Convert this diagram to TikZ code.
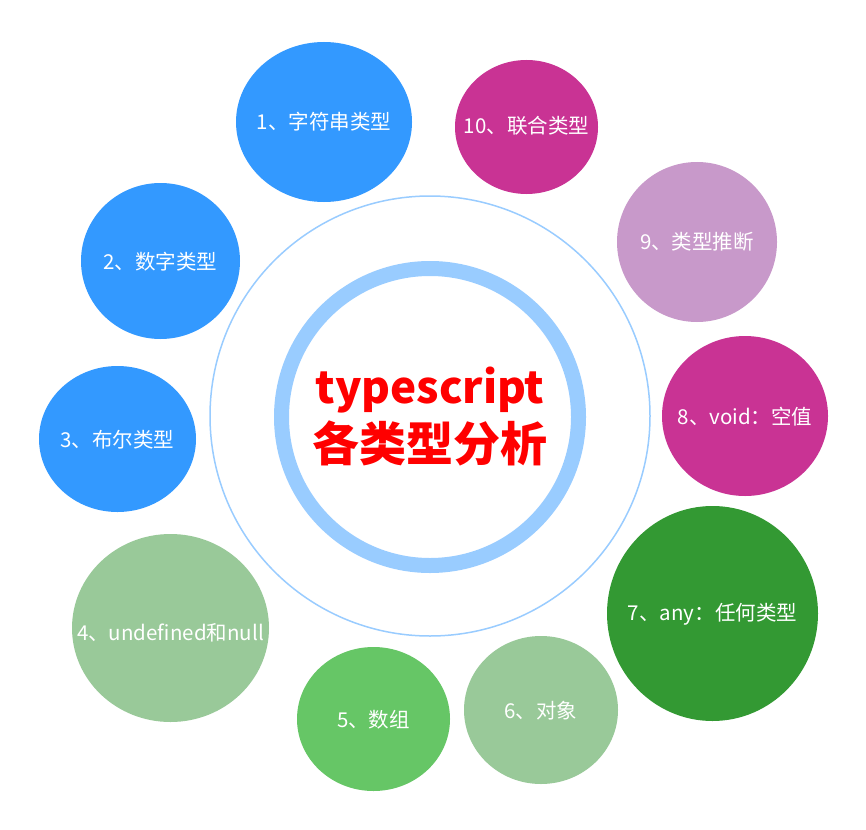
\documentclass[tikz,border=0pt]{standalone}
\usepackage{fontspec}
\setmainfont{Noto Sans CJK SC}
\usetikzlibrary{shapes.geometric}
\definecolor{bblue}{HTML}{3399FF}
\definecolor{bmag}{HTML}{C93394}
\definecolor{blilac}{HTML}{C899CA}
\definecolor{blgreen}{HTML}{99C999}
\definecolor{bdgreen}{HTML}{339933}
\definecolor{bmgreen}{HTML}{66C666}
\definecolor{ringblue}{HTML}{99CCFF}
\newcommand{\mybubble}[8]{%
  \fill[#6] (#2,#3) ellipse [x radius=#4, y radius=#5];
  \node[bubbletext] (#1) at (#2,#3+#8) {#7};}
\begin{document}
\begin{tikzpicture}[x=1pt,y=-1pt,
  bubbletext/.style={inner sep=0pt, text=white, font=\fontsize{20.5}{23}\selectfont},
  ringnode/.style={circle, draw=ringblue, inner sep=0pt}]
\useasboundingbox (0,0) rectangle (866,829);
\fill[white] (0,0) rectangle (866,829);
\node[ringnode, line width=1.5pt, minimum size=440pt] (outer) at (430,416) {};
\node[ringnode, line width=15pt, minimum size=297pt, align=center, text=red,
  font=\bfseries\fontsize{47}{58}\selectfont] (core) at (430,417) {{\fontsize{44}{58}\selectfont typescript}\\各类型分析};
\mybubble{b1}{324}{122}{88}{80}{bblue}{1、字符串类型}{0}
\mybubble{b10}{526.5}{127}{71.5}{67}{bmag}{10、联合类型}{-1}
\mybubble{b2}{160.5}{261}{79.5}{78}{bblue}{2、数字类型}{1}
\mybubble{b9}{697}{242}{80}{80}{blilac}{9、类型推断}{0}
\mybubble{b3}{117.5}{439}{78.5}{73}{bblue}{3、布尔类型}{1}
\mybubble{b8}{745}{416}{83}{80}{bmag}{8、void：空值}{1}
\mybubble{b4}{170.5}{628}{98.5}{94}{blgreen}{4、undefined和null}{5}
\mybubble{b7}{712.5}{613.5}{105.5}{107.5}{bdgreen}{7、any：任何类型}{1}
\mybubble{b5}{373.5}{719}{76.5}{72}{bmgreen}{5、数组}{1}
\mybubble{b6}{541}{710}{77}{74}{blgreen}{6、对象}{1}
\end{tikzpicture}
\end{document}
